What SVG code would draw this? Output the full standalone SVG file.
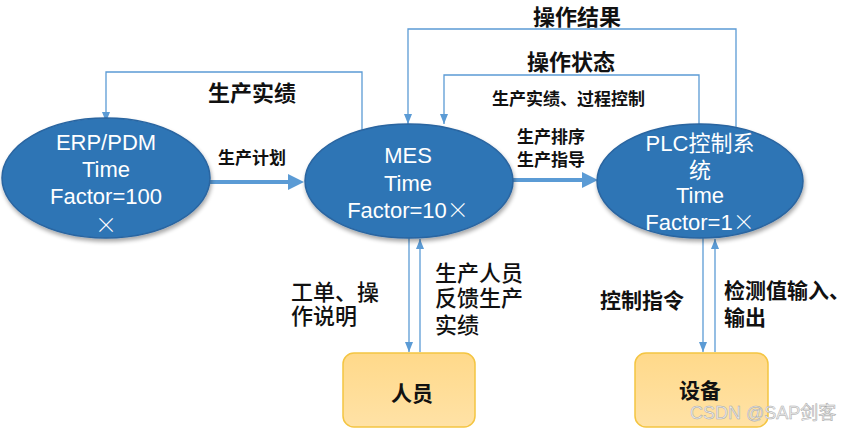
<svg xmlns="http://www.w3.org/2000/svg" width="850" height="434" viewBox="0 0 850 434">
<defs>
<style>
.ell{fill:#2E74B5;stroke:#2A65A0;stroke-width:1.5}
.et{font-family:"Liberation Sans","Noto Sans CJK SC",sans-serif;font-size:22px;fill:#fff;text-anchor:middle}
.x{font-family:"Noto Sans CJK SC",sans-serif;font-weight:300}
.lb{font-family:"Liberation Sans","Noto Sans CJK SC",sans-serif;font-weight:bold;fill:#111}
.lr{font-family:"Liberation Sans","Noto Sans CJK SC",sans-serif;font-weight:500;fill:#111}
.ln{fill:none;stroke:#5B9BD5;stroke-width:1.3}
.thick{fill:none;stroke:#5B9BD5;stroke-width:4}
.box{fill:url(#og);stroke:#F4C542;stroke-width:1.5}
</style>
<linearGradient id="og" x1="0" y1="0" x2="0" y2="1">
<stop offset="0" stop-color="#FFD98A"/>
<stop offset="1" stop-color="#FFE2A6"/>
</linearGradient>
<marker id="ah" viewBox="0 0 10 8" refX="10" refY="4" markerWidth="10" markerHeight="8" markerUnits="userSpaceOnUse" orient="auto">
<path d="M0,0 L10,4 L0,8 z" fill="#5B9BD5"/>
</marker>
<filter id="sh" x="-10%" y="-10%" width="120%" height="130%">
<feGaussianBlur in="SourceAlpha" stdDeviation="2"/>
<feOffset dx="1" dy="3"/>
<feComponentTransfer><feFuncA type="linear" slope="0.35"/></feComponentTransfer>
<feMerge><feMergeNode/><feMergeNode in="SourceGraphic"/></feMerge>
</filter>
</defs>
<rect width="850" height="434" fill="#fff"/>

<g id="connectors">
<polyline class="ln" points="362,130 362,72 106,72 106,122" marker-end="url(#ah)"/>
<polyline class="ln" points="736,128 736,29 408,29 408,124" marker-end="url(#ah)"/>
<polyline class="ln" points="699,126 699,75 444,75 444,124" marker-end="url(#ah)"/>
<line class="thick" x1="210" y1="182" x2="290" y2="182"/>
<polygon points="288,174 304,182 288,190" fill="#5B9BD5"/>
<line class="thick" x1="513" y1="180" x2="584" y2="180"/>
<polygon points="582,172 598,180 582,188" fill="#5B9BD5"/>
<line class="ln" x1="409" y1="238" x2="409" y2="352" marker-end="url(#ah)"/>
<line class="ln" x1="420" y1="352" x2="420" y2="239" marker-end="url(#ah)"/>
<line class="ln" x1="703" y1="238" x2="703" y2="352" marker-end="url(#ah)"/>
<line class="ln" x1="715" y1="352" x2="715" y2="239" marker-end="url(#ah)"/>
<text class="lb" x="208" y="101" font-size="22">生产实绩</text>
<text class="lb" x="218" y="164" font-size="17">生产计划</text>
<text class="lb" x="533" y="25" font-size="22">操作结果</text>
<text class="lb" x="527" y="70" font-size="22">操作状态</text>
<text class="lb" x="492" y="105" font-size="17">生产实绩、过程控制</text>
<text class="lb" x="517" y="143" font-size="17">生产排序</text>
<text class="lb" x="517" y="166" font-size="17">生产指导</text>
<text class="lr" x="291" y="300" font-size="22">工单、操</text>
<text class="lr" x="291" y="324" font-size="22">作说明</text>
<text class="lr" x="435" y="281" font-size="22">生产人员</text>
<text class="lr" x="435" y="306" font-size="22">反馈生产</text>
<text class="lr" x="435" y="333" font-size="22">实绩</text>
<text class="lb" x="600" y="308" font-size="21">控制指令</text>
<text class="lb" x="724" y="298" font-size="21">检测值输入、</text>
<text class="lb" x="724" y="325" font-size="21">输出</text>
</g>

<g id="erp">
<ellipse class="ell" cx="106" cy="178" rx="104" ry="60" filter="url(#sh)"/>
<text class="et" x="106" y="150">ERP/PDM</text>
<text class="et" x="106" y="177">Time</text>
<text class="et" x="106" y="204">Factor=100</text>
<text class="et" x="106" y="233" font-size="20"><tspan class="x">×</tspan></text>
</g>

<g id="mes">
<ellipse class="ell" cx="409" cy="181" rx="104" ry="57" filter="url(#sh)"/>
<text class="et" x="408" y="163">MES</text>
<text class="et" x="408" y="191">Time</text>
<text class="et" x="408" y="218">Factor=10<tspan class="x">×</tspan></text>
</g>

<g id="plc">
<ellipse class="ell" cx="700" cy="181" rx="103" ry="57" filter="url(#sh)"/>
<text class="et" x="700" y="151">PLC控制系</text>
<text class="et" x="700" y="178">统</text>
<text class="et" x="700" y="203">Time</text>
<text class="et" x="700" y="230">Factor=1<tspan class="x">×</tspan></text>
</g>

<g id="renyuan">
<rect class="box" x="343" y="353" width="132" height="74" rx="11"/>
<text class="lb" x="412" y="401" font-size="21" text-anchor="middle">人员</text>
</g>

<g id="shebei">
<rect class="box" x="635" y="353" width="133" height="74" rx="11"/>
<text class="lb" x="700" y="398" font-size="21" text-anchor="middle">设备</text>
</g>

<text x="690" y="419" font-family="Liberation Sans,Noto Sans CJK SC,sans-serif" font-size="18" fill="#eeeeee" stroke="#a8a8a8" stroke-width="0.5">CSDN @SAP剑客</text>
</svg>
